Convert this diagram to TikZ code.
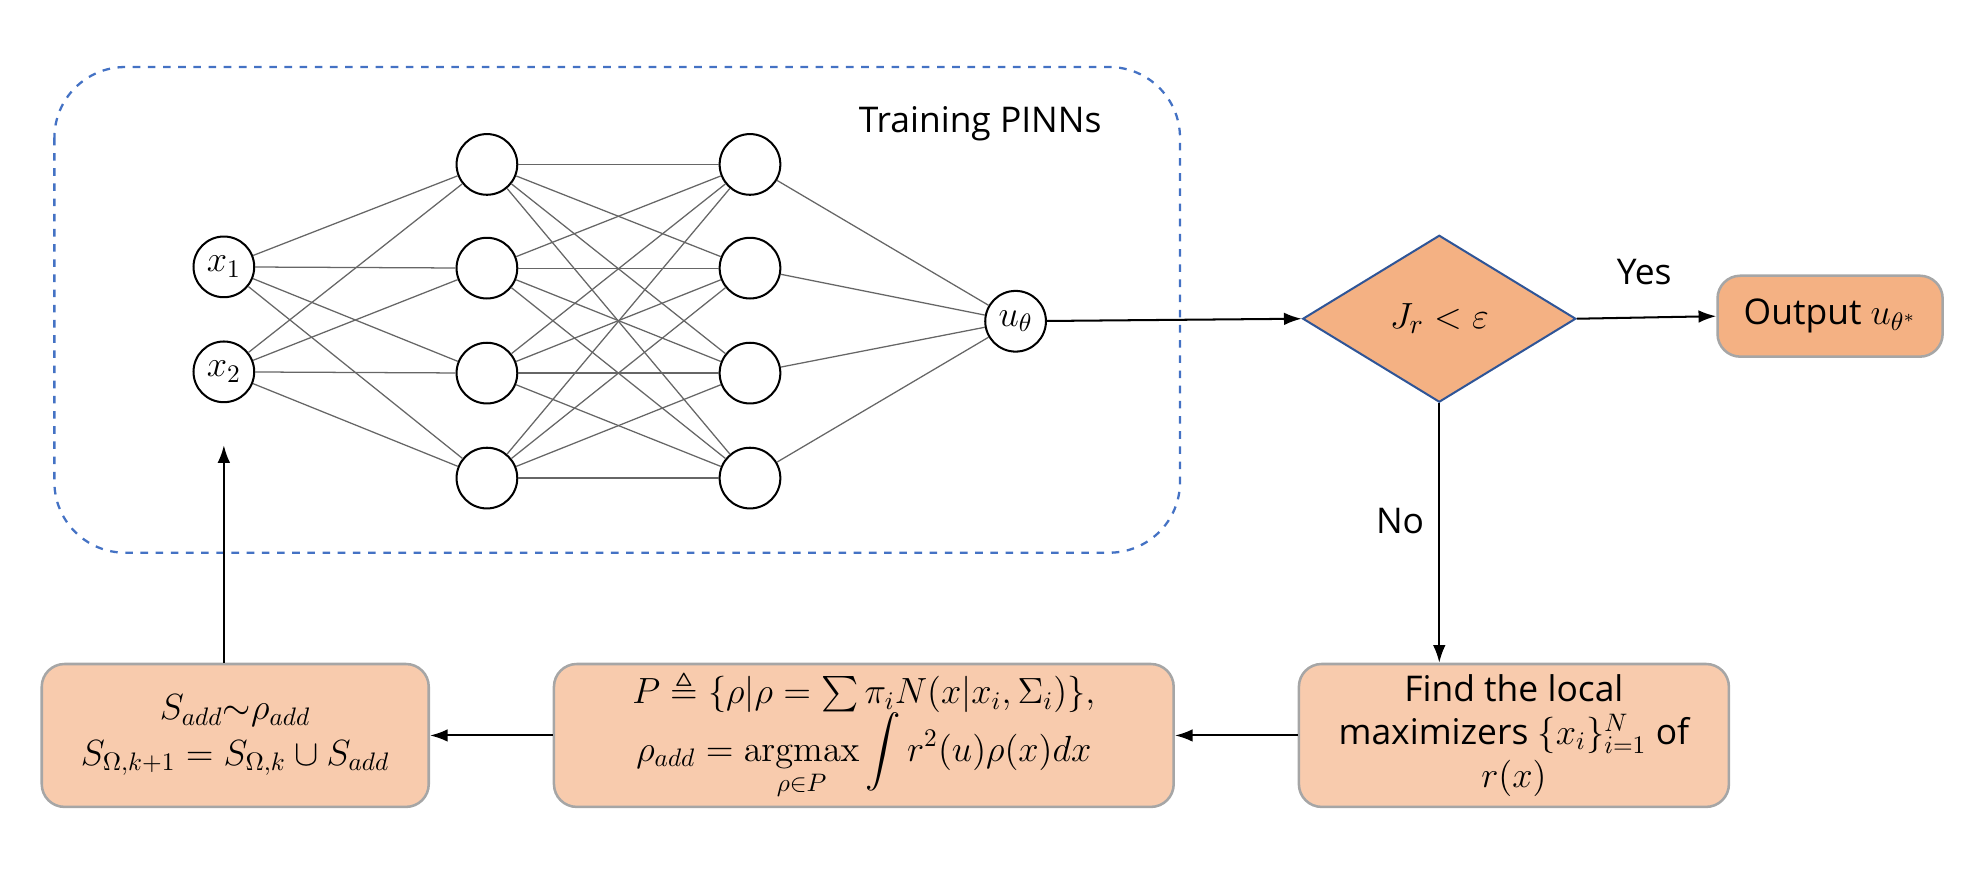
\documentclass[tikz,border=0pt]{standalone}
\usepackage{amsmath,amssymb}
\usepackage[no-math]{fontspec}
\setmainfont{Open Sans}
\usetikzlibrary{shapes.geometric,arrows.meta}
\definecolor{dark}{HTML}{F4B183}
\definecolor{light}{HTML}{F8CBAD}
\definecolor{dashblue}{HTML}{4472C4}
\definecolor{dblue}{HTML}{2F5597}
\begin{document}
\begin{tikzpicture}[x=0.5pt,y=-0.5pt,
  neuron/.style={circle,draw,thick,minimum size=24pt,inner sep=0pt,fill=white,font=\fontsize{14}{16}\selectfont},
  edge/.style={draw=black!60,line width=0.5pt},
  box/.style={draw=black!35,line width=1pt,rounded corners=9pt,align=center,font=\fontsize{14}{18}\selectfont,inner sep=2pt},
  arr/.style={-{Latex[length=7pt,width=5pt]},line width=0.8pt}]
\useasboundingbox (0,0) rectangle (1560,692);
\draw[dashblue,dashed,line width=0.9pt,rounded corners=28pt] (43,53) rectangle (933,437);
\node[font=\fontsize{14}{16}\selectfont] (title) at (775,98) {Training PINNs};
\foreach \i/\y in {1/130,2/212,3/295,4/378}{
  \node[neuron] (a\i) at (385,\y) {};
  \node[neuron] (b\i) at (593,\y) {};
}
\node[neuron] (x1) at (177,211) {$x_1$};
\node[neuron] (x2) at (177,294) {$x_2$};
\node[neuron] (u) at (803,254) {$u_\theta$};
\foreach \i in {1,2}{\foreach \j in {1,...,4}{\draw[edge] (x\i) -- (a\j);}}
\foreach \i in {1,...,4}{\foreach \j in {1,...,4}{\draw[edge] (a\i) -- (b\j);}}
\foreach \j in {1,...,4}{\draw[edge] (b\j) -- (u);}
\node[diamond,fill=dark,draw=dblue,line width=0.8pt,minimum width=108pt,minimum height=66pt,aspect=1.64,inner sep=0pt,font=\fontsize{15}{18}\selectfont] (d) at (1138,252) {$J_r<\varepsilon$};
\node[box,fill=dark,minimum width=89pt,minimum height=32pt] (out) at (1447,250) {Output $u_{\theta^*}$};
\node[box,fill=light,minimum width=170pt,minimum height=56.5pt] (find) at (1197,581.5) {Find the local\\[-1pt] maximizers $\{x_i\}_{i=1}^N$ of\\[-1pt] $r(x)$};
\node[box,fill=light,minimum width=245pt,minimum height=56.5pt] (mid) at (683,581.5) {$P\triangleq\{\rho|\rho=\sum\pi_iN(x|x_i,\Sigma_i)\},$\\[-1pt] $\displaystyle\rho_{add}=\operatorname*{argmax}_{\rho\in P}\int r^2(u)\rho(x)dx$};
\node[box,fill=light,minimum width=153pt,minimum height=56.5pt] (left) at (186,581.5) {$S_{add}{\sim}\rho_{add}$\\ $S_{\Omega,k+1}=S_{\Omega,k}\cup S_{add}$};
\coordinate (top) at (177,352);
\node[font=\fontsize{14}{16}\selectfont] (yes) at (1300,215) {Yes};
\node[font=\fontsize{14}{16}\selectfont] (no) at (1107,412) {No};
\draw[arr] (u) -- (d.west);
\draw[arr] (d.east) -- (out.west);
\draw[arr] (d.south) -- (find.north -| d.south);
\draw[arr] (find.west) -- (mid.east);
\draw[arr] (mid.west) -- (left.east);
\draw[arr] (left.north -| top) -- (top);
\end{tikzpicture}
\end{document}
